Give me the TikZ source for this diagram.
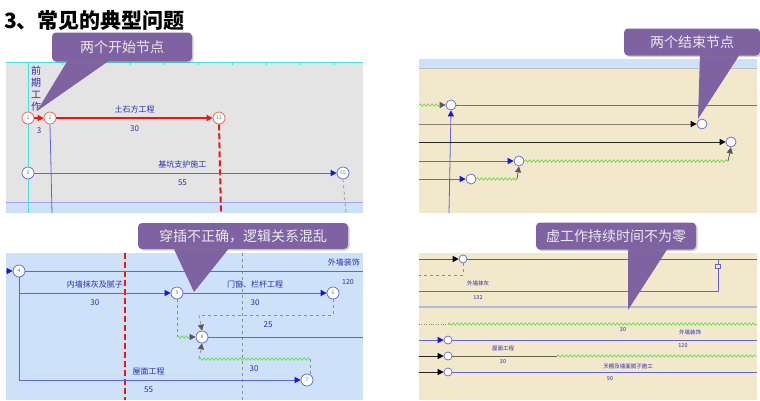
\documentclass[tikz,border=0pt]{standalone}
\usepackage{fontspec}
\setmainfont{Noto Sans CJK SC}
\usepackage{xcolor}
\usetikzlibrary{arrows.meta, positioning, calc, shadows, decorations.pathmorphing}

\definecolor{panelgray}{HTML}{E4E4E4}
\definecolor{panelblue}{HTML}{CDE1F9}
\definecolor{panelbeige}{HTML}{F2E8CB}
\definecolor{rulercyan}{HTML}{46E0E0}
\definecolor{netline}{HTML}{6464D2}
\definecolor{arrblue}{HTML}{1414E6}
\definecolor{critred}{HTML}{F01414}
\definecolor{nodegreen}{HTML}{2E9E2E}
\definecolor{floatgreen}{HTML}{6ADC4A}
\definecolor{labelblue}{HTML}{2C2CB0}
\definecolor{callpurple}{HTML}{7E62A2}
\definecolor{brownline}{HTML}{6E6050}

\begin{document}
\begin{tikzpicture}[x=1pt, y=-1pt,
    evt/.style    = {circle, draw=netline, fill=white, line width=0.7pt,
                     minimum size=12pt, inner sep=0pt, text=nodegreen,
                     font=\fontsize{5}{5}\selectfont},
    evtsm/.style  = {evt, minimum size=10pt},
    evttiny/.style= {evt, minimum size=8pt},
    redevt/.style = {evt, draw=critred!70},
    work/.style   = {netline, line width=0.8pt},
    crit/.style   = {critred, line width=2.4pt},
    arr/.style    = {-{Triangle[length=6pt, width=6pt]}},
    barr/.style   = {arr, arrows={-{Triangle[length=6pt, width=6pt, color=arrblue]}}},
    garr/.style   = {arrows={-{Triangle[length=6pt, width=6pt, color=black!65]}}},
    karr/.style   = {arrows={-{Triangle[length=6pt, width=6pt, color=black]}}},
    dummy/.style  = {dashed, black!45, line width=0.7pt},
    float/.style  = {decorate, decoration={snake, amplitude=1.2pt, segment length=4pt},
                     floatgreen, line width=0.7pt},
    lbl/.style    = {font=\fontsize{8}{8}\selectfont, text=labelblue, inner sep=1pt},
    lbls/.style   = {font=\fontsize{5.5}{6}\selectfont, text=labelblue, inner sep=1pt},
    callout/.style= {fill=callpurple, rounded corners=4pt, text=white!92!black,
                     font=\fontsize{14}{14}\selectfont, inner sep=0pt,
                     drop shadow={opacity=0.35, shadow xshift=1.5pt, shadow yshift=-1.5pt}}
]
  \useasboundingbox (0,0) rectangle (760,400);
  \fill[white] (0,0) rectangle (760,400);

  % title
  \node[anchor=west, font=\fontsize{21}{21}\selectfont\bfseries, inner sep=0pt]
    (title) at (4,21) {3、常见的典型问题};

  % ---------- panel 1: two start nodes ----------
  \fill[panelgray] (6,62) rectangle (363,213);
  \fill[panelblue] (6,202) rectangle (363,213);
  \draw[netline!60] (6,202) -- (363,202);
  \draw[rulercyan, line width=1pt] (6,62) -- (363,62);
  \foreach \x in {28,62,...,362} \draw[rulercyan, line width=0.8pt] (\x,62) -- (\x,65);
  \draw[rulercyan, line width=0.8pt] (28,62) -- (28,213);
  \node[lbl, font=\fontsize{10}{12}\selectfont, align=center] (phase) at (36,89) {前\\期\\工\\作};

  \node[redevt] (n1)  at (28,118)  {1};
  \node[redevt] (n2)  at (50,118)  {2};
  \node[redevt] (n11) at (219,118) {11};
  \node[evt]    (n3)  at (28,173)  {3};
  \node[evt]    (n55) at (343,173) {55};
  \coordinate (n2bot)  at (52,213);
  \coordinate (n11bot) at (221,213);
  \coordinate (n55bot) at (346,213);

  \draw[work] (n2.south) -- (n2bot);
  \draw[critred, dashed, line width=2pt, dash pattern=on 6pt off 3pt] (n11.south) -- (n11bot);
  \draw[dummy] (n55.south) -- (n55bot);
  \draw[crit, arr] (n1) -- (n2);
  \draw[crit, arr] (n2) -- (n11)
    node[midway, above=3pt, lbl] {土石方工程}
    node[midway, below=5pt, lbl] {30};
  \node[lbl] at (39,131) {3};
  \draw[work, barr] (n3) -- (n55)
    node[pos=0.49, above=3pt, lbl] {基坑支护施工}
    node[pos=0.49, below=5pt, lbl] {55};

  % ---------- panel 2: two end nodes ----------
  \fill[panelbeige] (419,59) rectangle (757,213);
  \fill[panelblue] (419,59) rectangle (757,68);
  \draw[black!25] (419,68) -- (757,68);

  \node[evtsm] (m1) at (451,105) {};
  \node[evtsm] (m2) at (702,124) {};
  \node[evtsm] (m3) at (731,142) {};
  \node[evtsm] (m4) at (519,161) {};
  \node[evtsm] (m5) at (471,179) {};
  \coordinate (w0)  at (441,105);
  \coordinate (vb)  at (449,213);
  \coordinate (w4)  at (728,161);
  \coordinate (w5)  at (517,179);

  \draw[float] (419,105) -- (w0);
  \draw[black!65, line width=0.8pt, garr] (w0) -- (m1);
  \draw[work] (m1) -- (757,105);
  \draw[work, barr] (vb) -- (m1.south);
  \draw[brownline!80, line width=0.9pt, karr] (419,124) -- (m2);
  \draw[black!85, line width=0.8pt, karr] (419,142) -- (m3);
  \draw[work, barr] (419,161) -- (m4);
  \draw[work, barr] (419,179) -- (m5);
  \draw[float] (m4) -- (w4);
  \draw[float] (m5) -- (w5);
  \draw[black!65, line width=0.8pt, garr] (w4) -- (m3.south);
  \draw[black!65, line width=0.8pt, garr] (w5) -- (m4.south);

  % ---------- panel 3: wrong overlap ----------
  \fill[panelblue] (6,253) rectangle (363,400);
  \draw[critred, dashed, line width=1.6pt, dash pattern=on 6pt off 3pt] (125,253) -- (125,400);
  \draw[dummy] (242,253) -- (242,400);

  \node[evt] (p4) at (19,271)  {4};
  \node[evt] (p5) at (177,293) {5};
  \node[evt] (p6) at (333,293) {6};
  \node[evt] (p8) at (202,337) {8};
  \node[evt] (p7) at (307,380) {7};
  \coordinate (w8) at (192,337);
  \coordinate (d6) at (199,315);
  \coordinate (f7) at (199,359);
  \coordinate (g7) at (310,359);

  \draw[work, barr] (6,271) -- (p4);
  \draw[work] (p4) -- (363,271);
  \node[lbl, anchor=east] at (361,262) {外墙装饰};
  \node[lbl, font=\fontsize{7}{7}\selectfont] at (348,282) {120};
  \draw[work, barr] (p4 |- p5) -- (p5)
    node[midway, above=3pt, lbl] {内墙抹灰及腻子}
    node[midway, below=5pt, lbl] {30};
  \draw[work, barr] (p5) -- (p6)
    node[midway, above=3pt, lbl] {门窗、栏杆工程}
    node[midway, below=5pt, lbl] {30};
  \draw[work, barr] (p4.south) |- (p7)
    node[pos=0.73, above=3pt, lbl] {屋面工程}
    node[pos=0.73, below=5pt, lbl] {55};
  \draw[dummy] (p5.south) -- (p5 |- p8) coordinate (d5);
  \draw[float] (d5) -- (w8);
  \draw[black!65, line width=0.8pt, garr] (w8) -- (p8);
  \draw[dummy] (p6.south) |- (d6);
  \draw[dummy, garr] (d6) -- (p8.north);
  \node[lbl] at (268,325) {25};
  \draw[work] (p8) -- (363,337);
  \draw[dummy, garr] (f7) -- (p8.south);
  \draw[float] (f7) -- (g7);
  \draw[dummy] (g7) -- (g7 |- p7.north);
  \node[lbl] at (254,369) {30};

  % ---------- panel 4: dummy with duration ----------
  \fill[panelbeige] (419,253) rectangle (757,400);

  \node[evttiny] (q1) at (463,259) {};
  \node[evttiny] (q2) at (448,340) {};
  \node[evttiny] (q3) at (448,356) {};
  \node[evttiny] (q4) at (448,372) {};
  \coordinate (k1) at (718,259);
  \coordinate (k2) at (718,291);
  \coordinate (z1) at (448,324);
  \coordinate (z2) at (557,356);

  \draw[brownline, line width=1pt, karr] (419,259) -- (q1);
  \draw[brownline, line width=1pt] (q1) -- (757,259);
  \draw[dummy, line width=0.5pt] (q1.south) |- (419,275);
  \draw[work] (k1) -- (k2) -- (419,291);
  \node[draw=netline, fill=panelbeige, minimum width=5pt, minimum height=4pt, inner sep=0pt] (kbox) at (718,266) {};
  \node[lbls] at (478,283) {外墙抹灰};
  \node[lbls] at (478,298) {132};
  \draw[black!20!netline!40, line width=1.2pt] (419,307) -- (757,307);
  \node[lbls] at (623,330) {30};
  \draw[black!45, dotted] (419,324) -- (z1);
  \draw[float] (z1) -- (757,324);
  \node[lbls] at (690,332) {外墙装饰};
  \node[lbls] at (683,346) {120};
  \draw[work, barr] (419,340) -- (q2);
  \draw[work] (q2) -- (757,340);
  \draw[black!85, line width=0.8pt, karr] (419,356) -- (q3);
  \draw[brownline, line width=0.8pt] (q3) -- (z2);
  \draw[float] (z2) -- (757,356);
  \node[lbls] at (503,348) {屋面工程};
  \node[lbls] at (503,362) {30};
  \draw[black!85, line width=0.8pt, karr] (419,372) -- (q4);
  \draw[work] (q4) -- (757,372);
  \node[lbls] at (628,366) {天棚及墙面腻子施工};
  \node[lbls] at (610,379) {90};

  % ---------- callouts ----------
  \fill[callpurple] (68,60) -- (37,111) -- (110,60) -- cycle;
  \node[callout, minimum width=140pt, minimum height=29pt] (startcall) at (122,47) {两个开始节点};

  \fill[callpurple] (700,54) -- (698,119) -- (740,54) -- cycle;
  \node[callout, minimum width=136pt, minimum height=27pt] (endcall) at (692,42) {两个结束节点};

  \fill[callpurple] (173,247) -- (194,292) -- (230,247) -- cycle;
  \node[callout, minimum width=210pt, minimum height=26pt] (mixcall) at (243,236) {穿插不正确，逻辑关系混乱};

  \fill[callpurple] (628,248) -- (628,310) -- (668,248) -- cycle;
  \node[callout, minimum width=160pt, minimum height=27pt] (dumcall) at (616,236) {虚工作持续时间不为零};
\end{tikzpicture}
\end{document}
